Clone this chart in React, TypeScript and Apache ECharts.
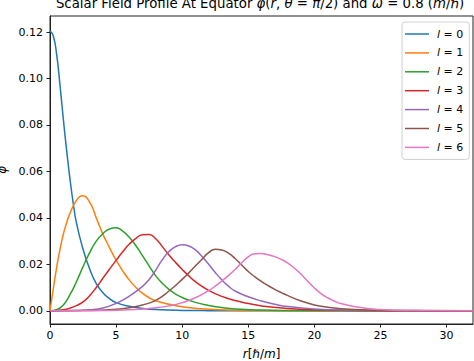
import React, { useEffect, useRef } from "react";
import * as echarts from "echarts";

// r values and phi values, per angular number l
const l0: [number, number][] = [
  [0, 0.1205], [0.25, 0.1183], [0.5, 0.1105], [0.75, 0.0975], [1, 0.083], [1.25, 0.0695], [1.5, 0.0573],
  [1.75, 0.0466], [2, 0.0378], [2.5, 0.0265], [3, 0.018], [3.5, 0.0117], [4, 0.0078], [4.5, 0.0052],
  [5, 0.0035], [6, 0.0019], [7, 0.001], [8, 0.0005], [10, 0.00015], [12, 0.00005], [16, 0], [32, 0],
];
const l1: [number, number][] = [
  [0, 0], [0.25, 0.0095], [0.5, 0.0185], [0.75, 0.0263], [1, 0.0328], [1.25, 0.0378], [1.5, 0.0418],
  [2, 0.0475], [2.45, 0.0495], [3, 0.0468], [3.5, 0.04], [4, 0.033], [4.5, 0.0272], [5, 0.0218],
  [5.5, 0.0172], [6, 0.0132], [6.5, 0.01], [7, 0.0075], [7.5, 0.0056], [8, 0.0043], [9, 0.0028],
  [10, 0.0017], [12, 0.0006], [15, 0.0001], [20, 0], [32, 0],
];
const l2: [number, number][] = [
  [0, 0], [0.5, 0.0004], [1, 0.0024], [1.5, 0.0068], [2, 0.0125], [2.5, 0.019], [3, 0.025], [3.5, 0.03],
  [4, 0.0332], [4.5, 0.0352], [5, 0.0357], [5.5, 0.0343], [6, 0.0316], [6.5, 0.028], [7, 0.0237],
  [7.5, 0.0193], [8, 0.015], [8.5, 0.0118], [9, 0.0092], [9.5, 0.0072], [10, 0.0057], [11, 0.0036],
  [12, 0.0023], [13, 0.0014], [14, 0.0008], [16, 0.0003], [18, 0.0001], [22, 0], [32, 0],
];
const l3: [number, number][] = [
  [0, 0], [0.5, 0.0001], [1, 0.0004], [1.5, 0.0011], [2, 0.0022], [2.5, 0.0038], [3, 0.0065], [3.5, 0.01],
  [4, 0.014], [4.5, 0.0179], [5, 0.0217], [5.5, 0.0254], [6, 0.0287], [6.5, 0.0312], [7, 0.0327],
  [7.5, 0.0328], [8, 0.031], [8.5, 0.0276], [9, 0.024], [9.5, 0.0208], [10, 0.0178], [10.5, 0.015],
  [11, 0.0125], [12, 0.0088], [13, 0.0062], [14, 0.0044], [15, 0.0031], [16, 0.0021], [18, 0.001],
  [20, 0.0004], [22, 0.0002], [25, 0.00005], [32, 0],
];
const l4: [number, number][] = [
  [0, 0], [2, 0.0001], [3, 0.0004], [4, 0.0012], [5, 0.0032], [6, 0.0063], [7, 0.0105], [7.5, 0.0135],
  [8, 0.0175], [8.5, 0.022], [9, 0.0255], [9.5, 0.0276], [10, 0.0284], [10.5, 0.0279], [11, 0.0262],
  [11.5, 0.0234], [12, 0.02], [12.5, 0.0165], [13, 0.0133], [13.5, 0.0106], [14, 0.0085], [15, 0.006],
  [16, 0.0042], [17, 0.0028], [18, 0.0018], [20, 0.0008], [22, 0.0003], [25, 0.0001], [32, 0],
];
const l5: [number, number][] = [
  [0, 0], [3, 0.0001], [5, 0.0006], [6, 0.0013], [7, 0.0025], [8, 0.0045], [9, 0.0085], [10, 0.0135],
  [10.5, 0.0163], [11, 0.0193], [11.5, 0.0222], [12, 0.025], [12.5, 0.0265], [13, 0.0262], [13.5, 0.0248],
  [14, 0.0225], [14.5, 0.0197], [15, 0.0169], [15.5, 0.0146], [16, 0.0126], [16.5, 0.0108], [17, 0.0092],
  [17.5, 0.0078], [18, 0.0065], [19, 0.0042], [20, 0.0025], [21, 0.0015], [22, 0.0009], [24, 0.0003],
  [26, 0.0001], [32, 0],
];
const l6: [number, number][] = [
  [0, 0], [4, 0.0001], [6, 0.0004], [8, 0.0013], [9, 0.0021], [10, 0.0035], [11, 0.0056], [12, 0.0087],
  [12.5, 0.0106], [13, 0.0128], [13.5, 0.0152], [14, 0.0178], [14.5, 0.0207], [15, 0.0232], [15.5, 0.0245],
  [16, 0.0246], [16.5, 0.0241], [17, 0.0233], [17.5, 0.0221], [18, 0.0205], [18.5, 0.0183], [19, 0.0157],
  [19.5, 0.0127], [20, 0.0098], [20.5, 0.0074], [21, 0.0056], [21.5, 0.0042], [22, 0.0031], [23, 0.0018],
  [24, 0.001], [25, 0.0005], [26, 0.0002], [28, 0.0001], [32, 0],
];

const seriesData = [l0, l1, l2, l3, l4, l5, l6];
const lValues = [0, 1, 2, 3, 4, 5, 6];
const colors = ["#1f77b4", "#ff7f0e", "#2ca02c", "#d62728", "#9467bd", "#8c564b", "#e377c2"];
const xTicks = [0, 5, 10, 15, 20, 25, 30];
const yTicks = [0, 0.02, 0.04, 0.06, 0.08, 0.1, 0.12];

const FONT = "DejaVu Sans";

export default function App() {
  const ref = useRef<HTMLDivElement>(null);
  useEffect(() => {
    if (!ref.current) return;
    const chart = echarts.init(ref.current, undefined, { renderer: "svg" });
    const italic = { fontStyle: "italic" as const, fontFamily: FONT, color: "#000" };
    chart.setOption({
      animation: false,
      color: colors,
      grid: {
        left: 50,
        top: 16,
        right: 1,
        bottom: 37,
        show: true,
        borderColor: "#222",
        borderWidth: 1,
        containLabel: false,
        outerBoundsMode: "none",
      },
      graphic: [
        {
          type: "text",
          x: 260,
          y: -3,
          style: {
            text: "Scalar Field Profile At Equator {i|φ}({i|r}, {i|θ} = {i|π}/2) and {i|ω} = 0.8 ({i|m}/{i|ℏ})",
            rich: { i: { ...italic, fontSize: 13.3 } },
            fontSize: 13.3,
            fontFamily: FONT,
            fill: "#000",
            align: "center",
            verticalAlign: "top",
          },
        },
      ],
      legend: {
        orient: "vertical",
        left: 402,
        top: 22,
        padding: [5, 6, 5, 3],
        icon: "rect",
        itemWidth: 24,
        itemHeight: 1.5,
        itemGap: 4.9,
        borderColor: "#d0d0d0",
        borderWidth: 1,
        borderRadius: 3,
        backgroundColor: "rgba(255,255,255,0.8)",
        formatter: (name: string) => `{i|l} = ${name.split("=")[1]}`,
        textStyle: {
          fontSize: 11,
          fontFamily: FONT,
          color: "#000",
          padding: [0, 0, 0, 3],
          lineHeight: 14,
          rich: { i: { ...italic, fontSize: 11, lineHeight: 14 } },
        },
        data: lValues.map((l) => `l=${l}`),
      },
      xAxis: {
        type: "value",
        min: 0,
        max: 32,
        name: "{i|r}[{i|ℏ}/{i|m}]",
        nameLocation: "middle",
        nameGap: 24,
        nameTextStyle: {
          fontSize: 12,
          fontFamily: FONT,
          color: "#000",
          rich: { i: { ...italic, fontSize: 12 } },
        },
        splitLine: { show: false },
        axisLine: { show: true, onZero: false, lineStyle: { color: "#222", width: 1 } },
        axisTick: { show: true, inside: false, length: 3.5, lineStyle: { color: "#222" }, customValues: xTicks },
        axisLabel: { fontSize: 11, fontFamily: FONT, color: "#000", margin: 6, customValues: xTicks },
      },
      yAxis: {
        type: "value",
        min: -0.0057,
        max: 0.1269,
        name: "{i|φ}",
        nameLocation: "middle",
        nameRotate: 90,
        nameGap: 40,
        nameTextStyle: {
          fontSize: 12,
          fontFamily: FONT,
          color: "#000",
          rich: { i: { ...italic, fontSize: 12 } },
        },
        splitLine: { show: false },
        axisLine: { show: true, onZero: false, lineStyle: { color: "#222", width: 1 } },
        axisTick: { show: true, inside: false, length: 3.5, lineStyle: { color: "#222" }, customValues: yTicks },
        axisLabel: {
          fontSize: 11,
          fontFamily: FONT,
          color: "#000",
          margin: 7,
          customValues: yTicks,
          formatter: (v: number) => v.toFixed(2),
        },
      },
      series: seriesData.map((d, i) => ({
        type: "line",
        name: `l=${lValues[i]}`,
        data: d,
        symbol: "none",
        smooth: 0.5,
        lineStyle: { width: 1.5, color: colors[i] },
        itemStyle: { color: colors[i] },
        clip: true,
      })),
    });
    return () => chart.dispose();
  }, []);
  return (
    <div
      ref={ref}
      style={{ position: "fixed", left: 0, top: 0, width: 474, height: 361, background: "#fff" }}
    />
  );
}
